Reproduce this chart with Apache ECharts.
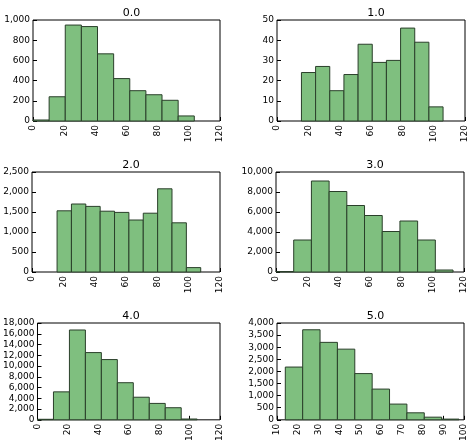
<!DOCTYPE html>
<html><head><meta charset="utf-8">
<script src="https://cdn.jsdelivr.net/npm/echarts@6/dist/echarts.min.js"></script>
<style>html,body{margin:0;padding:0;background:#fff}#c{width:474px;height:444px}</style>
</head><body><div id="c"></div>
<script>
const titles = ['0.0','1.0','2.0','3.0','4.0','5.0'];
const binStart = [0, 15.6, 16, 0, 0, 14];
const binWidth = [10.35, 9.04, 9.17, 11.3, 10.5, 8.36];
const counts0 = [10, 240, 950, 935, 665, 420, 300, 260, 205, 50];
const counts1 = [24, 27, 15, 23, 38, 29, 30, 46, 39, 7];
const counts2 = [1530, 1700, 1640, 1520, 1490, 1300, 1470, 2080, 1230, 110];
const counts3 = [50, 3200, 9100, 8050, 6650, 5650, 4050, 5100, 3200, 200];
const counts4 = [100, 5200, 16700, 12500, 11200, 6900, 4200, 3050, 2250, 150];
const counts5 = [2180, 3720, 3200, 2920, 1910, 1270, 650, 290, 110, 30];
const counts = [counts0, counts1, counts2, counts3, counts4, counts5];
const xMin = [0,0,0,0,0,10], xMax = [120,120,120,120,120,100], xStep = [20,20,20,20,20,10];
const yMax = [1000,50,2500,10000,18000,4000], yStep = [200,10,500,2000,2000,500];

const gridPos = [
  {left:33,top:20,width:187,height:101},
  {left:277,top:20,width:188,height:101},
  {left:32,top:172,width:188,height:100},
  {left:276,top:172,width:188,height:100},
  {left:32,top:323,width:188,height:101},
  {left:277,top:323,width:187,height:101}
];
const font = 'DejaVu Sans';
const grid=[], xAxis=[], yAxis=[], series=[], title=[];
for (let i=0;i<6;i++){
  const g = gridPos[i];
  grid.push(Object.assign({show:true,borderColor:'#000',borderWidth:1,backgroundColor:'#fff'}, g));
  title.push({text:titles[i], left:g.left+g.width/2, top:g.top-17, textAlign:'center',
    textStyle:{fontFamily:font,fontSize:11,fontWeight:'normal',color:'#000'}});
  xAxis.push({type:'value',gridIndex:i,min:xMin[i],max:xMax[i],interval:xStep[i],
    axisLine:{show:false},splitLine:{show:false},
    axisTick:{inside:true,length:4,lineStyle:{color:'#000'}},
    axisLabel:{rotate:90,fontFamily:font,fontSize:9,color:'#000',margin:4}});
  yAxis.push({type:'value',gridIndex:i,min:0,max:yMax[i],interval:yStep[i],
    axisLine:{show:false},splitLine:{show:false},
    axisTick:{inside:true,length:4,lineStyle:{color:'#000'}},
    axisLabel:{fontFamily:font,fontSize:9,color:'#000',margin:3}});
  const data = counts[i].map((c,k)=>[binStart[i]+k*binWidth[i], binStart[i]+(k+1)*binWidth[i], c]);
  series.push({type:'custom',xAxisIndex:i,yAxisIndex:i,data:data,
    encode:{x:[0,1],y:2},
    renderItem:function(params,api){
      const p0 = api.coord([api.value(0), api.value(2)]);
      const p1 = api.coord([api.value(1), 0]);
      return {type:'rect',shape:{x:p0[0],y:p0[1],width:p1[0]-p0[0],height:p1[1]-p0[1]},
        style:{fill:'#7fbf7f',stroke:'#2a3f2a',lineWidth:1}};
    }});
}
const chart = echarts.init(document.getElementById('c'),null,{renderer:'canvas'});
chart.setOption({animation:false,title,grid,xAxis,yAxis,series});
</script></body></html>
